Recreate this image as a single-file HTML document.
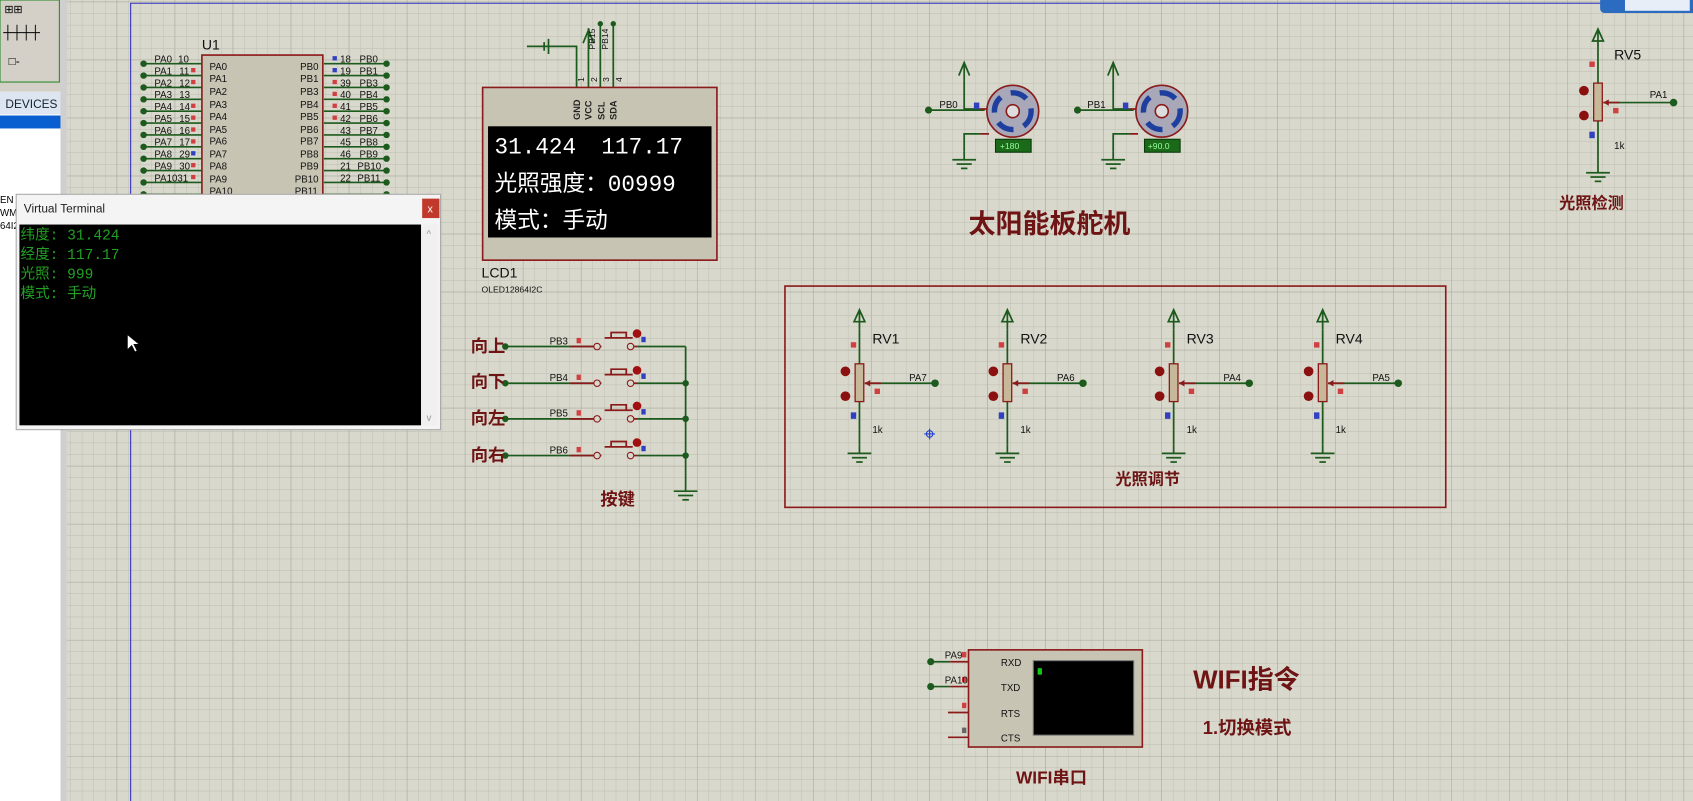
<!DOCTYPE html>
<html><head><meta charset="utf-8"><style>
html,body{margin:0;padding:0;overflow:hidden;background:#d8d8cc}
svg{display:block}
text{font-family:"Liberation Sans","Noto Sans CJK SC",sans-serif}
.cj{font-family:"Liberation Sans","Noto Sans CJK SC",sans-serif;font-weight:bold;fill:#6e1414}
.w{stroke:#1d5a1d;stroke-width:1.6;fill:none}
.r{stroke:#8b1a1a;stroke-width:1.6;fill:none}
</style></head><body>
<svg width="1693" height="801" viewBox="0 0 1568 742" preserveAspectRatio="none" xmlns="http://www.w3.org/2000/svg">
<defs>
<pattern id="g" width="10.75" height="10.75" patternUnits="userSpaceOnUse" x="1" y="2">
<path d="M10.75 0V10.75H0" fill="none" stroke="#bcbcb0" stroke-width="0.8"/>
</pattern>
<pattern id="G" width="53.75" height="53.75" patternUnits="userSpaceOnUse" x="1" y="2">
<path d="M53.75 0V53.75H0" fill="none" stroke="#a9a99d" stroke-width="1"/>
</pattern>
<g id="gnd"><line x1="0" y1="0" x2="0" y2="8" class="w"/><line x1="-11" y1="8" x2="11" y2="8" class="w"/><line x1="-7" y1="12" x2="7" y2="12" class="w"/><line x1="-3" y1="16" x2="3" y2="16" class="w"/></g>
<g id="pwr"><path d="M0 18V0M-5 11L0 0L5 11Z" class="w"/></g>
<g id="pot">
<use href="#pwr" x="0" y="0"/>
<line x1="0" y1="18" x2="0" y2="125" class="w"/>
<rect x="-4" y="50" width="8" height="35" fill="#c8b89a" stroke="#8b1a1a" stroke-width="1.2"/>
<circle cx="-13" cy="57" r="4.5" fill="#8b1010"/><circle cx="-13" cy="80" r="4.5" fill="#8b1010"/>
<rect x="-8" y="30" width="5" height="5" fill="#d04040"/><rect x="-8" y="95" width="5" height="6" fill="#3040c0"/>
<path d="M5 68H70" class="w"/><path d="M5 68H20" class="r"/><path d="M5 68l5-3v6z" fill="#8b1a1a"/>
<rect x="14" y="73" width="5" height="5" fill="#d04040"/>
<circle cx="70" cy="68" r="3.5" fill="#1d5a1d"/>
<use href="#gnd" x="0" y="125"/>
</g>
</defs>
<rect width="1568" height="742" fill="#d8d8cc"/>
<rect width="1568" height="742" fill="url(#g)"/>
<rect width="1568" height="742" fill="url(#G)"/>
<path d="M121 742V3H1568" fill="none" stroke="#3030c0" stroke-width="1"/>
<!-- left panel -->
<rect x="0" y="0" width="62" height="742" fill="#fff"/>
<rect x="0" y="0" width="62" height="85" fill="#d4d0c8"/>
<rect x="0" y="0" width="55" height="76" fill="#d4d0c8" stroke="#2a8a2a" stroke-width="1"/>
<text x="4" y="12" font-size="10">⊞⊞</text><text x="3" y="34" font-size="12">┼┼┼┼</text><text x="8" y="60" font-size="11">□-</text>
<rect x="0" y="85" width="60" height="21" fill="#dde6f0"/>
<text x="5" y="100" font-size="11" fill="#123">DEVICES</text>
<rect x="0" y="107" width="60" height="12" fill="#0a5fd0"/>
<rect x="56" y="0" width="6" height="742" fill="#cfcfcf"/>
<text x="0" y="188" font-size="9">EN</text><text x="0" y="200" font-size="9">WM</text><text x="0" y="212" font-size="9">64I2</text>
<!-- U1 -->
<text x="187" y="46" font-size="13" fill="#111">U1</text>
<rect x="187" y="51" width="112" height="135" fill="#c8c4b4" stroke="#8b1a1a" stroke-width="1.5"/>
<g font-size="9" fill="#111">
<path d="M133 59H187M133 70H187M133 81H187M133 92H187M133 103H187M133 114H187M133 125H187M133 136H187M133 147H187M133 158H187M133 169H187M133 180H187" class="w"/>
<path d="M300 59H358M300 70H358M300 81H358M300 92H358M300 103H358M300 114H358M300 125H358M300 136H358M300 147H358M300 158H358M300 169H358M300 180H358" class="w"/>
<g fill="#1d5a1d"><circle cx="133" cy="59" r="3"/><circle cx="133" cy="70" r="3"/><circle cx="133" cy="81" r="3"/><circle cx="133" cy="92" r="3"/><circle cx="133" cy="103" r="3"/><circle cx="133" cy="114" r="3"/><circle cx="133" cy="125" r="3"/><circle cx="133" cy="136" r="3"/><circle cx="133" cy="147" r="3"/><circle cx="133" cy="158" r="3"/><circle cx="133" cy="169" r="3"/><circle cx="133" cy="180" r="3"/>
<circle cx="358" cy="59" r="3"/><circle cx="358" cy="70" r="3"/><circle cx="358" cy="81" r="3"/><circle cx="358" cy="92" r="3"/><circle cx="358" cy="103" r="3"/><circle cx="358" cy="114" r="3"/><circle cx="358" cy="125" r="3"/><circle cx="358" cy="136" r="3"/><circle cx="358" cy="147" r="3"/><circle cx="358" cy="158" r="3"/><circle cx="358" cy="169" r="3"/><circle cx="358" cy="180" r="3"/></g>
<g fill="#d04040"><rect x="177" y="63" width="4" height="4"/><rect x="177" y="74" width="4" height="4"/><rect x="177" y="96" width="4" height="4"/><rect x="177" y="107" width="4" height="4"/><rect x="177" y="118" width="4" height="4"/><rect x="177" y="129" width="4" height="4"/><rect x="177" y="151" width="4" height="4"/><rect x="177" y="162" width="4" height="4"/>
<rect x="308" y="74" width="4" height="4"/><rect x="308" y="85" width="4" height="4"/><rect x="308" y="96" width="4" height="4"/><rect x="308" y="107" width="4" height="4"/></g>
<g fill="#3040c0"><rect x="177" y="140" width="4" height="4"/><rect x="308" y="52" width="4" height="4"/><rect x="308" y="63" width="4" height="4"/></g>
<text x="143" y="58">PA0</text><text x="143" y="69">PA1</text><text x="143" y="80">PA2</text><text x="143" y="91">PA3</text><text x="143" y="102">PA4</text><text x="143" y="113">PA5</text><text x="143" y="124">PA6</text><text x="143" y="135">PA7</text><text x="143" y="146">PA8</text><text x="143" y="157">PA9</text><text x="143" y="168">PA1031</text>
<text x="165" y="58">10</text><text x="166" y="69">11</text><text x="166" y="80">12</text><text x="166" y="91">13</text><text x="166" y="102">14</text><text x="166" y="113">15</text><text x="166" y="124">16</text><text x="166" y="135">17</text><text x="166" y="146">29</text><text x="166" y="157">30</text>
<text x="194" y="65">PA0</text><text x="194" y="76">PA1</text><text x="194" y="88">PA2</text><text x="194" y="100">PA3</text><text x="194" y="111">PA4</text><text x="194" y="123">PA5</text><text x="194" y="134">PA6</text><text x="194" y="146">PA7</text><text x="194" y="157">PA8</text><text x="194" y="169">PA9</text><text x="194" y="180">PA10</text>
<text x="278" y="65">PB0</text><text x="278" y="76">PB1</text><text x="278" y="88">PB3</text><text x="278" y="100">PB4</text><text x="278" y="111">PB5</text><text x="278" y="123">PB6</text><text x="278" y="134">PB7</text><text x="278" y="146">PB8</text><text x="278" y="157">PB9</text><text x="273" y="169">PB10</text><text x="273" y="180">PB11</text>
<text x="315" y="58">18</text><text x="315" y="69">19</text><text x="315" y="80">39</text><text x="315" y="91">40</text><text x="315" y="102">41</text><text x="315" y="113">42</text><text x="315" y="124">43</text><text x="315" y="135">45</text><text x="315" y="146">46</text><text x="315" y="157">21</text><text x="315" y="168">22</text>
<text x="333" y="58">PB0</text><text x="333" y="69">PB1</text><text x="333" y="80">PB3</text><text x="333" y="91">PB4</text><text x="333" y="102">PB5</text><text x="333" y="113">PB6</text><text x="333" y="124">PB7</text><text x="333" y="135">PB8</text><text x="333" y="146">PB9</text><text x="331" y="157">PB10</text><text x="331" y="168">PB11</text>
</g>
<!-- Virtual terminal -->
<rect x="15" y="180" width="393" height="218" fill="#f4f4f4" stroke="#aaa"/>
<text x="22" y="197" font-size="11" fill="#222">Virtual Terminal</text>
<rect x="391" y="184" width="16" height="18" fill="#c0392b"/><text x="396" y="197" font-size="10" fill="#fff">x</text>
<rect x="18" y="208" width="372" height="186" fill="#000"/>
<rect x="390" y="208" width="15" height="186" fill="#f0f0f0"/>
<text x="395" y="220" font-size="9" fill="#999">^</text><text x="395" y="390" font-size="9" fill="#999">v</text>
<g font-size="13.5" fill="#22a022">
<text x="19" y="222" style="font-family:'Liberation Mono','Noto Sans CJK SC',monospace">纬度: 31.424</text>
<text x="19" y="240" style="font-family:'Liberation Mono','Noto Sans CJK SC',monospace">经度: 117.17</text>
<text x="19" y="258" style="font-family:'Liberation Mono','Noto Sans CJK SC',monospace">光照: 999</text>
<text x="19" y="276" style="font-family:'Liberation Mono','Noto Sans CJK SC',monospace">模式: 手动</text>
</g>
<path d="M118 310v14l4-4 3 6 2-1-3-6h5z" fill="#fff" stroke="#000" stroke-width="0.6"/>
<!-- LCD -->
<path d="M534 81V43H498M508 36V50M504 39V47M488 43h10" class="w"/>
<path d="M545 81V26M556 81V22M568 81V22" class="w"/>
<path d="M540 40L545 28L550 40" class="w"/>
<circle cx="556" cy="22" r="2.5" fill="#1d5a1d"/><circle cx="568" cy="22" r="2.5" fill="#1d5a1d"/>
<g font-size="8" fill="#111"><text transform="translate(551,46) rotate(-90)">PB15</text><text transform="translate(563,46) rotate(-90)">PB14</text>
<text transform="translate(541,76) rotate(-90)">1</text><text transform="translate(553,76) rotate(-90)">2</text><text transform="translate(564,76) rotate(-90)">3</text><text transform="translate(576,76) rotate(-90)">4</text></g>
<rect x="447" y="81" width="217" height="160" fill="#c8c4b4" stroke="#8b1a1a" stroke-width="1.5"/>
<g font-size="8.5" fill="#222" font-weight="bold"><text transform="translate(537,111) rotate(-90)">GND</text><text transform="translate(548,111) rotate(-90)">VCC</text><text transform="translate(560,111) rotate(-90)">SCL</text><text transform="translate(571,111) rotate(-90)">SDA</text></g>
<rect x="452" y="117" width="207" height="103" fill="#000"/>
<g fill="#fff" font-size="21">
<text x="458" y="142" style="font-family:'Liberation Mono','Noto Sans CJK SC',monospace">31.424</text>
<text x="557" y="142" style="font-family:'Liberation Mono','Noto Sans CJK SC',monospace">117.17</text>
<text x="458" y="177" style="font-family:'Liberation Mono','Noto Sans CJK SC',monospace">光照强度：00999</text>
<text x="458" y="211" style="font-family:'Liberation Mono','Noto Sans CJK SC',monospace">模式：手动</text>
</g>
<text x="446" y="257" font-size="13" fill="#111">LCD1</text>
<text x="446" y="271" font-size="8" fill="#111">OLED12864I2C</text>
<!-- buttons -->
<path d="M468 321H550M590 321H635M468 355H550M590 355H635M468 388H550M590 388H635M468 422H550M590 422H635M635 321V447" class="w"/>
<g fill="#1d5a1d"><circle cx="468" cy="321" r="3"/><circle cx="468" cy="355" r="3"/><circle cx="468" cy="388" r="3"/><circle cx="468" cy="422" r="3"/><circle cx="635" cy="355" r="3"/><circle cx="635" cy="388" r="3"/><circle cx="635" cy="422" r="3"/></g>
<use href="#gnd" x="635" y="447"/>
<g font-size="9" fill="#111"><text x="509" y="319">PB3</text><text x="509" y="353">PB4</text><text x="509" y="386">PB5</text><text x="509" y="420">PB6</text></g>
<g id="b1">
<path d="M528 321h22M555 321h2M586 321h4M560 313h26M566 313v-5h14v5" class="r"/>
<circle cx="553" cy="321" r="3" fill="#d8d8cc" stroke="#8b1a1a"/><circle cx="584" cy="321" r="3" fill="#d8d8cc" stroke="#8b1a1a"/>
<circle cx="590" cy="309" r="4" fill="#a01010"/><rect x="594" y="312" width="4" height="5" fill="#3040c0"/><rect x="534" y="313" width="4" height="5" fill="#d04040"/>
</g>
<use href="#b1" y="34"/><use href="#b1" y="67"/><use href="#b1" y="101"/>
<g class="cj" font-size="16"><text x="436" y="326">向上</text><text x="436" y="359">向下</text><text x="436" y="393">向左</text><text x="436" y="427">向右</text><text x="556" y="468">按键</text></g>
<!-- servos -->
<g id="sv">
<path d="M893 75V101H908M860 102H912M893 140V124H908" class="w"/>
<path d="M888 70L893 58L898 70" class="w"/><path d="M893 58V75" class="w"/>
<use href="#gnd" x="893" y="140"/>
<circle cx="860" cy="102" r="3.3" fill="#1d5a1d"/>
<path d="M908 101h8M908 124h8" class="r"/>
<rect x="902" y="95" width="5" height="6" fill="#3040c0"/>
<circle cx="938" cy="103" r="24" fill="#a8a8b8" stroke="#8b1a1a" stroke-width="1.5"/>
<circle cx="938" cy="103" r="17" fill="none" stroke="#1f3f9f" stroke-width="5" stroke-dasharray="16 10"/>
<circle cx="938" cy="103" r="6" fill="#ddd" stroke="#8b1a1a" stroke-width="1.5"/>
<rect x="922" y="129" width="33" height="12" fill="#1a6a1a" stroke="#0a3a0a"/>
</g>
<text x="926" y="138" font-size="8" fill="#9f9">+180</text>
<g transform="translate(138,0)"><use href="#sv"/></g>
<text x="1063" y="138" font-size="8" fill="#9f9">+90.0</text>
<g font-size="9" fill="#111"><text x="870" y="100">PB0</text><text x="1007" y="100">PB1</text></g>
<text x="897" y="216" class="cj" font-size="25">太阳能板舵机</text>
<!-- pot box -->
<rect x="727" y="265" width="612" height="205" fill="none" stroke="#8b1a1a" stroke-width="1.5"/>
<use href="#pot" x="796" y="287"/><use href="#pot" x="933" y="287"/><use href="#pot" x="1087" y="287"/><use href="#pot" x="1225" y="287"/>
<g font-size="13" fill="#111"><text x="808" y="318">RV1</text><text x="945" y="318">RV2</text><text x="1099" y="318">RV3</text><text x="1237" y="318">RV4</text><text x="1495" y="55">RV5</text></g>
<g font-size="9" fill="#111"><text x="842" y="353">PA7</text><text x="979" y="353">PA6</text><text x="1133" y="353">PA4</text><text x="1271" y="353">PA5</text><text x="1528" y="91">PA1</text>
<text x="808" y="401">1k</text><text x="945" y="401">1k</text><text x="1099" y="401">1k</text><text x="1237" y="401">1k</text><text x="1495" y="138">1k</text></g>
<text x="1033" y="449" class="cj" font-size="15">光照调节</text>
<path d="M861 397v10M856 402h10" stroke="#2040d0" stroke-width="1"/><circle cx="861" cy="402" r="3" fill="none" stroke="#2040d0"/>
<use href="#pot" x="1480" y="27"/>
<text x="1444" y="193" class="cj" font-size="15">光照检测</text>
<!-- wifi -->
<path d="M862 613H880M862 636H880" class="w"/>
<path d="M880 613h17M880 636h17M878 660h19M878 683h19" class="r"/>
<circle cx="862" cy="613" r="3.3" fill="#1d5a1d"/><circle cx="862" cy="636" r="3.3" fill="#1d5a1d"/>
<rect x="897" y="602" width="161" height="90" fill="#c8c4b4" stroke="#8b1a1a" stroke-width="1.5"/>
<rect x="957" y="612" width="93" height="69" fill="#000" stroke="#777"/>
<rect x="961" y="619" width="4" height="6" fill="#1c1"/>
<rect x="891" y="604" width="4" height="5" fill="#d04040"/><rect x="891" y="627" width="4" height="5" fill="#d04040"/><rect x="891" y="651" width="4" height="5" fill="#d04040"/><rect x="891" y="674" width="4" height="5" fill="#666"/>
<g font-size="9" fill="#111"><text x="875" y="610">PA9</text><text x="875" y="633">PA10</text><text x="927" y="617">RXD</text><text x="927" y="640">TXD</text><text x="927" y="664">RTS</text><text x="927" y="687">CTS</text></g>
<text x="941" y="726" class="cj" font-size="16">WIFI串口</text>
<text x="1105" y="638" class="cj" font-size="24">WIFI指令</text>
<text x="1114" y="680" class="cj" font-size="17">1.切换模式</text>
<rect x="1482" y="-4" width="90" height="16" rx="4" fill="#2b6bc0"/><rect x="1505" y="0" width="60" height="10" fill="#e8eef8"/>
</svg>
</body></html>
